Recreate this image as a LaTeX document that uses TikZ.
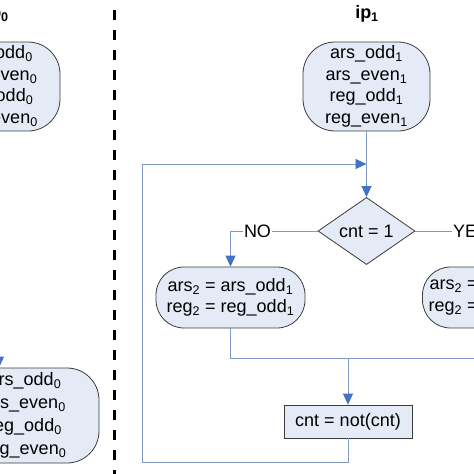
\documentclass[tikz,border=0pt]{standalone}
\usepackage{fontspec}
\setmainfont{Liberation Sans}
\usetikzlibrary{shapes.geometric,arrows.meta}
\definecolor{boxfill}{RGB}{228,235,246}
\definecolor{boxline}{RGB}{60,60,60}
\definecolor{connc}{RGB}{125,155,198}
\definecolor{arrc}{RGB}{68,114,196}
\begin{document}
\begin{tikzpicture}[x=1pt,y=-1pt,
  txt/.style={font=\fontsize{18}{21.5}\selectfont, align=center},
  rbox/.style={txt, draw=boxline, fill=boxfill, line width=0.8pt, rounded corners=28pt, inner sep=0pt},
  tbox/.style={rbox, rounded corners=32pt},
  sbox/.style={txt, draw=boxline, fill=boxfill, line width=0.8pt, inner sep=0pt},
  conn/.style={draw=connc, line width=0.9pt},
  arr/.style={conn, -{Triangle[width=10pt,length=11pt,fill=arrc,color=arrc]}},
  ttl/.style={font=\fontsize{18}{21}\selectfont\bfseries}]
\clip (0,0) rectangle (474,474);
\fill[white] (0,0) rectangle (474,474);

% separator
\draw[line width=3pt, dash pattern=on 9.5pt off 10.5pt] (114,10) -- (114,480);

% titles
\node[ttl] (t0) at (-3,14) {ip\textsubscript{0}};
\node[ttl] (t1) at (367,14) {ip\textsubscript{1}};

% input boxes
\node[tbox, minimum width=127pt, minimum height=89pt] (b0) at (-3.5,86.5)
  {ars\_odd\textsubscript{0}\\ars\_even\textsubscript{0}\\reg\_odd\textsubscript{0}\\reg\_even\textsubscript{0}};
\node[tbox, minimum width=127pt, minimum height=89pt] (b1) at (366.5,86.5)
  {ars\_odd\textsubscript{1}\\ars\_even\textsubscript{1}\\reg\_odd\textsubscript{1}\\reg\_even\textsubscript{1}};

% decision
\node[txt, shape=diamond, draw=boxline, fill=boxfill, line width=0.8pt, inner sep=0pt,
  minimum width=97pt, minimum height=52pt] (d) at (366.5,231) {cnt = 1};

\node[txt, fill=white, inner sep=1pt] (no) at (257.5,231) {NO};
\node[txt, fill=white, inner sep=1pt, anchor=west] (yes) at (452,231) {YES};

% branch boxes
\node[rbox, minimum width=149pt, minimum height=61pt] (bL) at (230.5,297.5)
  {ars\textsubscript{2} = ars\_odd\textsubscript{1}\\reg\textsubscript{2} = reg\_odd\textsubscript{1}};
\node[rbox, minimum width=149pt, minimum height=61pt] (bR) at (497,297.5)
  {ars\textsubscript{2} = ars\_even\textsubscript{1}\\reg\textsubscript{2} = reg\_even\textsubscript{1}};

% toggle box
\node[sbox, minimum width=128pt, minimum height=33pt] (cnt) at (348,421.5) {cnt = not(cnt)};

% left column lower box
\node[tbox, font=\fontsize{18}{23}\selectfont, minimum width=148pt, minimum height=95pt] (b0b) at (25,415.5)
  {ars\_odd\textsubscript{0}\\ars\_even\textsubscript{0}\\reg\_odd\textsubscript{0}\\reg\_even\textsubscript{0}};

% coordinates
\coordinate (mj) at (348,358);
\coordinate (l1) at (348,462);
\coordinate (l2) at (142,462);
\coordinate (l3) at (142,164);
\coordinate (l4) at (366.5,164);
\coordinate (a0) at (-1,300);

% connectors
\draw[arr] (b1.south) -- (d.north);
\draw[conn] (d.west) -- (no.east);
\draw[arr] (no.west) -| (bL.north);
\draw[conn] (d.east) -- (yes.west);
\draw[arr] (yes.east) -| (bR.north);
\draw[conn] (bL.south) |- (bR.south |- mj) -- (bR.south);
\draw[arr] (mj) -- (cnt.north);
\draw[arr] (cnt.south) -- (l1) -- (l2) -- (l3) -- (l4);
\draw[arr] (a0) -- (a0 |- b0b.north);
\end{tikzpicture}
\end{document}
